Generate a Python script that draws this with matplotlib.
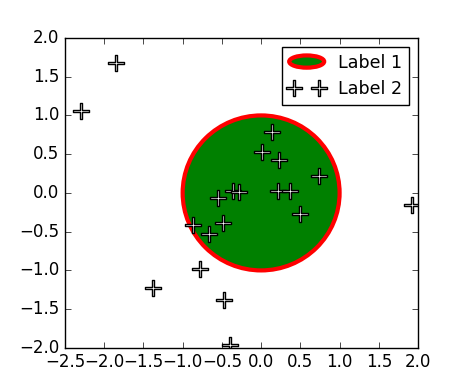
import matplotlib
matplotlib.use("Agg")
import matplotlib.pyplot as plt
from matplotlib.path import Path
from matplotlib.patches import Circle, Ellipse
from matplotlib.legend_handler import HandlerPatch

plt.style.use('classic')

x_pts = [-1.85, -2.29, 0.14, 0.01, 0.23, 0.74, 0.22, 0.37, -0.36, -0.28,
         -0.55, -0.87, -0.66, -0.48, 0.49, 1.92, -0.78, -1.38, -0.47, -0.40]
y_pts = [1.68, 1.06, 0.78, 0.53, 0.42, 0.22, 0.03, 0.03, 0.02, 0.01,
         -0.06, -0.41, -0.53, -0.39, -0.27, -0.15, -0.98, -1.23, -1.38, -1.96]

circle_center = (0.0, 0.0)
circle_radius = 1.0

w = 0.18
plus_verts = [(-w, -1), (w, -1), (w, -w), (1, -w), (1, w), (w, w), (w, 1),
              (-w, 1), (-w, w), (-1, w), (-1, -w), (-w, -w), (-w, -1)]
plus_marker = Path(plus_verts, closed=True)


class HandlerEllipse(HandlerPatch):
    def create_artists(self, legend, orig_handle, xdescent, ydescent,
                       width, height, fontsize, trans):
        center = 0.5 * width - 0.5 * xdescent, 0.5 * height - 0.5 * ydescent
        p = Ellipse(xy=center, width=width + xdescent,
                    height=height + ydescent)
        self.update_prop(p, orig_handle, legend)
        p.set_transform(trans)
        return [p]


fig = plt.figure(figsize=(4.74, 3.87), dpi=100)
ax = fig.add_axes([0.137, 0.101, 0.745, 0.801])

c = Circle(circle_center, circle_radius, facecolor='green', edgecolor='red',
           linewidth=3)
ax.add_patch(c)
ln, = ax.plot(x_pts, y_pts, linestyle='none', marker=plus_marker,
              markersize=11.5, markerfacecolor='white',
              markeredgecolor='black', markeredgewidth=1)

ax.set_xlim(-2.5, 2.0)
ax.set_ylim(-2.0, 2.0)

ax.legend([c, ln], ['Label 1', 'Label 2'],
          handler_map={Circle: HandlerEllipse()}, loc='upper right',
          fontsize=12.6)

fig.savefig('out.png', dpi=100)
